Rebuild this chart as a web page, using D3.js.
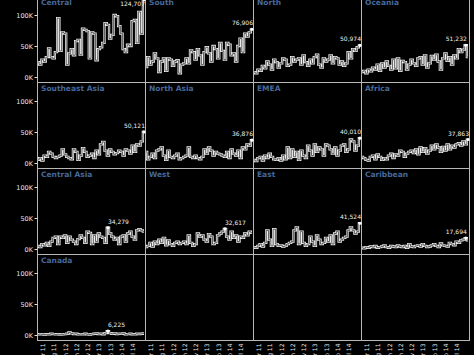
<!DOCTYPE html>
<html>
<head>
<meta charset="utf-8">
<script src="https://cdn.jsdelivr.net/npm/d3@7"></script>
<style>
  body { margin: 0; background: #000; }
  svg { display: block; }
</style>
</head>
<body>
<div id="chart"></div>
<script>
// region names, in panel order (left to right, top to bottom)
let regions = ["Central", "South", "North", "Oceania",
  "Southeast Asia", "North Asia", "EMEA", "Africa",
  "Central Asia", "West", "East", "Caribbean", "Canada"];

// monthly sales in thousands, Jan 2011 - Dec 2014
let central = [24,20,28,25,32,46,32,30,40,95,42,72,70,20,38,45,35,58,60,36,78,76,74,30,72,70,27,45,48,55,87,84,62,68,100,98,82,70,45,40,52,50,90,92,55,105,70,124.707];
let south = [16,32,20,25,38,30,8,25,30,10,30,28,18,25,27,6,20,22,30,22,43,40,28,45,35,20,40,48,38,25,50,45,30,55,42,28,55,52,35,38,25,50,62,40,70,65,72,76.906];
let north = [8,6,12,10,18,14,25,20,12,28,24,15,22,30,28,18,20,32,25,28,30,20,35,24,18,28,22,32,36,20,15,30,25,28,35,22,32,30,20,25,18,22,40,30,45,42,48,50.974];
let oceania = [8,10,6,12,9,15,12,20,10,22,15,25,18,12,28,14,30,10,26,24,12,20,28,22,18,30,32,20,35,15,22,34,28,36,25,12,30,38,26,32,20,35,30,45,40,44,51.232,32];
let southeastAsia = [5,8,4,12,10,18,15,10,8,10,12,22,14,10,8,6,22,18,5,12,24,18,10,12,15,8,20,14,30,34,20,12,22,18,14,16,20,18,12,22,20,15,28,18,30,28,35,50.121];
let northAsia = [18,6,10,15,8,20,22,25,12,5,20,10,8,12,15,6,8,10,12,25,10,8,12,8,6,10,22,15,25,20,12,18,15,14,12,10,18,8,22,15,12,20,8,25,22,30,28,36.876];
let emea = [5,3,8,10,4,12,8,15,10,6,5,8,4,12,6,25,8,22,10,18,5,20,12,8,28,20,12,30,18,25,22,12,30,28,22,15,25,12,20,28,30,18,22,38,35,20,28,40.01];
let africa = [10,8,5,4,10,12,6,14,10,5,8,6,12,15,8,14,12,20,18,10,15,18,20,16,22,14,25,18,24,15,20,28,22,30,25,18,26,20,30,22,28,25,30,32,28,35,30,37.863];
let centralAsia = [5,3,8,6,10,5,12,18,20,8,20,18,22,10,20,15,12,8,16,22,18,10,28,26,8,22,12,25,20,18,10,34.279,25,20,15,18,8,20,22,12,25,28,20,15,30,32,30,28];
let west = [3,5,10,4,12,8,15,10,18,6,14,8,5,10,12,8,10,12,8,22,10,5,8,25,20,22,15,12,24,20,8,10,22,25,28,32.617,20,15,28,18,22,12,20,18,25,22,28,26];
let east = [3,2,5,8,4,10,30,15,5,32,8,5,6,4,5,8,10,12,30,35,8,28,10,5,8,20,12,5,22,15,8,10,18,12,22,8,25,28,12,15,18,20,30,35,30,25,28,41.524];
let caribbean = [2,1,3,2,4,3,5,2,3,4,6,3,2,5,4,3,6,4,3,5,2,8,4,3,5,6,4,8,5,3,4,6,8,5,3,9,6,5,4,10,8,6,12,10,14,15,17.694,14];
let canada = [1,1.5,1,0.8,1.2,1,2,1.5,1,1.2,0.5,1,1.5,2,4,2.5,1.5,2,1,1.5,1.2,2,1,0.8,1.5,2,2.5,1.5,2,1.2,3,6.225,3,2,2.5,1.5,2,1.8,2.5,1,1.5,2,1.2,1,2,1.5,2,2.5];

let series = [central, south, north, oceania, southeastAsia, northAsia, emea, africa,
  centralAsia, west, east, caribbean, canada];

// y axis ticks (thousands) and x axis tick dates
let yTicks = [0, 50, 100];
let tickDates = [new Date(2011, 2, 1), new Date(2011, 7, 1), new Date(2012, 0, 1),
  new Date(2012, 5, 1), new Date(2012, 10, 1), new Date(2013, 3, 1),
  new Date(2013, 8, 1), new Date(2014, 1, 1), new Date(2014, 6, 1)];

let months = d3.timeMonth.range(new Date(2011, 0, 1), new Date(2015, 0, 1));

let width = 474, height = 355;
let gridLeft = 37, gridTop = -4, cellW = 108, cellH = 86, nCols = 4, nRows = 4;
let font = "DejaVu Sans, sans-serif";

let svg = d3.select("#chart")
  .append("svg")
  .attr("width", width)
  .attr("height", height)
  .style("background-color", "#000");

let x = d3.scaleTime()
  .domain([months[0], months[months.length - 1]])
  .range([0, cellW - 2]);

let y = d3.scaleLinear()
  .domain([0, 100])
  .range([cellH - 5, cellH - 67]);

let line = d3.line()
  .x(function(d, i) { return x(months[i]); })
  .y(function(d) { return y(d); })
  .curve(d3.curveStep);

//panel borders, empty cells included
for (let r = 0; r < nRows; r++) {
  for (let c = 0; c < nCols; c++) {
    svg.append("rect")
      .attr("x", gridLeft + c * cellW + 0.5)
      .attr("y", gridTop + r * cellH + 0.5)
      .attr("width", cellW)
      .attr("height", cellH)
      .attr("fill", "none")
      .attr("stroke", "#b8b8b8")
      .attr("stroke-width", 1);
  }
}

//one y axis per row
for (let r = 0; r < nRows; r++) {
  let ya = svg.append("g")
    .attr("transform", "translate(" + (gridLeft + 0.5) + "," + (gridTop + r * cellH) + ")")
    .call(d3.axisLeft(y).tickValues(yTicks).tickSize(3).tickFormat(function(d) { return d + "K"; }));
  ya.select(".domain").remove();
  ya.selectAll("line").attr("stroke", "#ddd");
  ya.selectAll("text")
    .attr("fill", "#e8e8e8")
    .attr("x", -4.5)
    .style("font-family", font)
    .style("font-size", "6.5px");
}

//x axis under every column (labels run off the bottom like the original)
for (let c = 0; c < nCols; c++) {
  let xa = svg.append("g")
    .attr("transform", "translate(" + (gridLeft + c * cellW + 1) + "," + (gridTop + nRows * cellH + 0.5) + ")")
    .call(d3.axisBottom(x).tickValues(tickDates).tickSize(0).tickFormat(d3.timeFormat("%b %y")));
  xa.select(".domain").remove();
  xa.selectAll("text")
    .attr("transform", "rotate(-90)")
    .attr("x", -3)
    .attr("y", 0)
    .attr("dy", "0.35em")
    .attr("fill", "#e8e8e8")
    .style("text-anchor", "end")
    .style("font-family", font)
    .style("font-size", "6px");
}

let fmt = d3.format(",.0f");

regions.forEach(function(name, k) {
  let c = k % nCols, r = Math.floor(k / nCols);
  let g = svg.append("g")
    .attr("transform", "translate(" + (gridLeft + c * cellW + 1) + "," + (gridTop + r * cellH) + ")");
  let values = series[k];

  //white outline with dark core
  g.append("path")
    .datum(values)
    .attr("d", line)
    .attr("fill", "none")
    .attr("stroke", "#f0f0f0")
    .attr("stroke-width", 2.3);
  g.append("path")
    .datum(values)
    .attr("d", line)
    .attr("fill", "none")
    .attr("stroke", "#222")
    .attr("stroke-width", 0.7);

  //mark the maximum
  let mi = d3.maxIndex(values);
  let mx = x(months[mi]), my = y(values[mi]);
  g.append("circle")
    .attr("cx", mx)
    .attr("cy", my)
    .attr("r", 1.6)
    .attr("fill", "#fff");
  let label = g.append("text")
    .attr("x", mx)
    .attr("y", Math.max(my - 4, 10))
    .attr("fill", "#f0f0f0")
    .style("font-family", font)
    .style("font-size", "6px")
    .text(fmt(values[mi] * 1000));
  let w = label.node().getComputedTextLength();
  if (mx + w > cellW - 3) {
    label.attr("x", mx + 1).style("text-anchor", "end");
  }

  //panel title
  g.append("text")
    .attr("x", 3)
    .attr("y", 9)
    .attr("fill", "#46689a")
    .style("font-family", font)
    .style("font-weight", "bold")
    .style("font-size", "7.5px")
    .text(name);
});
</script>
</body>
</html>
